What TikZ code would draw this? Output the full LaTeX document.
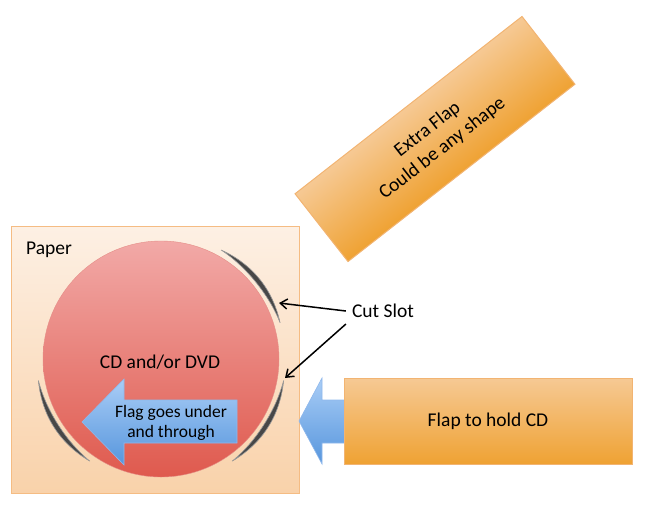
\documentclass[tikz,border=0pt]{standalone}
\usepackage{fontspec}
\setmainfont{Carlito}
\usetikzlibrary{arrows,arrows.meta}

\definecolor{paperTop}{HTML}{FDF0E4}
\definecolor{paperBot}{HTML}{F9D2AA}
\definecolor{paperLine}{HTML}{F5BC83}
\definecolor{discTop}{HTML}{F2A9A7}
\definecolor{discBot}{HTML}{DF5A4E}
\definecolor{discLine}{HTML}{E58E88}
\definecolor{flapTop}{HTML}{F6C994}
\definecolor{flapBot}{HTML}{EFA233}
\definecolor{flapLine}{HTML}{F2B472}
\definecolor{flagTop}{HTML}{A9CDF6}
\definecolor{flagBot}{HTML}{5796DD}
\definecolor{flagLine}{HTML}{8FB8EC}

% crescent shaped slot round the disc, from angle #1 to #2
\newcommand{\cutslot}[2]{%
  \fill[slotfill] plot[domain=#1:#2,samples=30] ({161+(124.5+2.4*sin((\x-#1)/(#2-#1)*180))*cos(\x)},{359-(124.5+2.4*sin((\x-#1)/(#2-#1)*180))*sin(\x)})
   -- plot[domain=#2:#1,samples=30] ({161+(124.5-2.4*sin((\x-#1)/(#2-#1)*180))*cos(\x)},{359-(124.5-2.4*sin((\x-#1)/(#2-#1)*180))*sin(\x)}) -- cycle;}

\begin{document}
\begin{tikzpicture}[
x=1pt, y=-1pt,
font=\fontsize{19.5}{24}\selectfont,
paper/.style={draw=paperLine, top color=paperTop, bottom color=paperBot,
    minimum width=288pt, minimum height=267pt, inner sep=0pt},
disc/.style={circle, draw=discLine, top color=discTop, bottom color=discBot,
    minimum size=236pt, inner sep=0pt},
flap/.style={draw=flapLine, line width=1pt, top color=flapTop, bottom color=flapBot,
    minimum width=288pt, minimum height=86pt, inner sep=0pt, align=center},
flag/.style={draw=flagLine, top color=flagTop, bottom color=flagBot, line width=0.6pt},
slotfill/.style={fill=black!72, draw=black!40, line width=0.6pt},
label/.style={inner sep=6pt, align=center},
pointer/.style={-{Straight Barb[length=7pt,width=10pt]}, line width=1.5pt},
]
\useasboundingbox (0,0) rectangle (656,509);

\node[paper, line width=1pt] (paper) at (155,359.5) {};
\node[anchor=center] (paperlabel) at (49,250) {Paper};

\node[disc] (cd) at (161,359) {};
\cutslot{17}{61}
\cutslot{-55}{-10}
\cutslot{190}{235}

% flag going under the disc
\shade[flag] (237,400) -- (124,400) -- (124,379) -- (82,422) -- (124,465)
  -- (124,443) -- (237,443) -- cycle;
\node[align=center, font=\fontsize{17.5}{20}\selectfont] (flagtext) at (171,423)
  {Flag goes under\\and through};
\node (cdtext) at (160,362) {CD and/or DVD};

% the tilted flap, shaded across its own width
\shade[flap, transform canvas={shift={(435,139)}, rotate=38}] (-144,-43) rectangle (144,43);
\node[align=center, rotate=38] (extra) at (435,139) {Extra Flap\\Could be any shape};

% push arrow for the flap
\shade[flag] (346,400) -- (322,400) -- (322,378) -- (299,421) -- (322,464)
  -- (322,443) -- (346,443) -- cycle;
\node[flap] (hold) at (488,421) {Flap to hold CD};

\node[label] (cut) at (383,311) {Cut Slot};
\coordinate (slotA) at (279,303);
\coordinate (slotB) at (285,378);
\draw[pointer] (cut.west) -- (slotA);
\draw[pointer] (cut.south west) -- (slotB);

\end{tikzpicture}
\end{document}
